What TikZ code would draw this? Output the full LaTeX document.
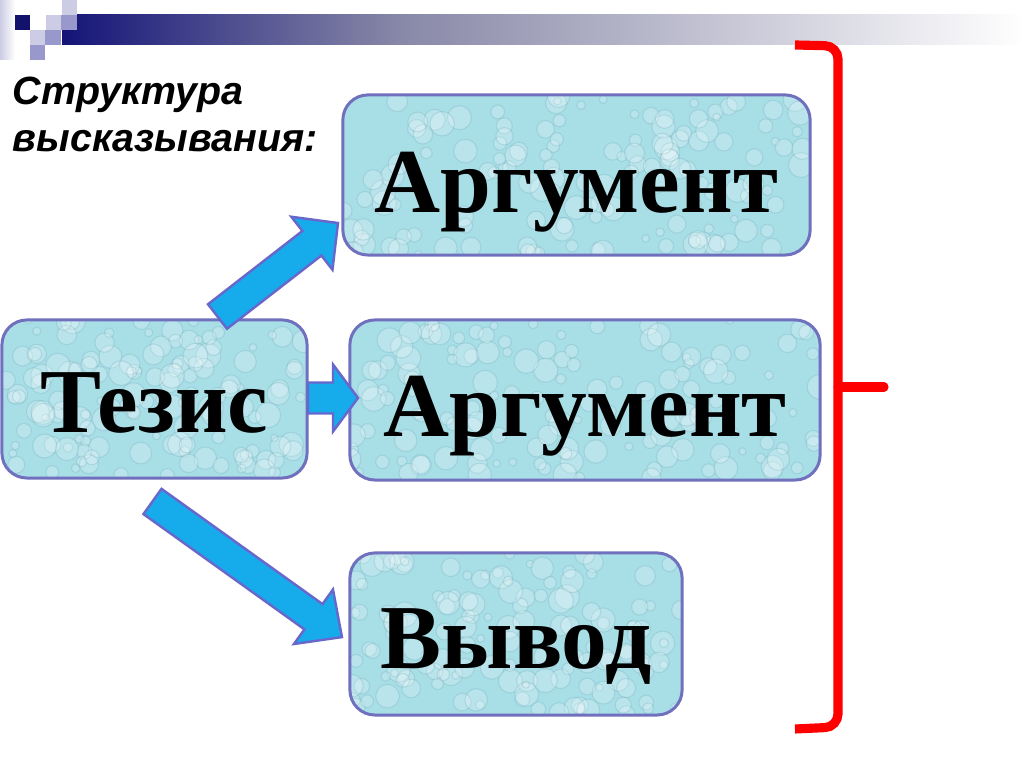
\documentclass[tikz,border=0pt]{standalone}
\usepackage{fontspec}
\setmainfont{Liberation Serif}
\newfontfamily\lsans{Liberation Sans}
\usetikzlibrary{calc}
\definecolor{boxfill}{RGB}{168,222,230}
\definecolor{boxborder}{RGB}{112,112,190}
\definecolor{dropedge}{RGB}{80,150,168}
\definecolor{arrowfill}{RGB}{22,172,236}
\definecolor{arrowborder}{RGB}{104,104,204}
\definecolor{navy}{RGB}{20,20,120}
\definecolor{barmid}{RGB}{136,136,168}
\definecolor{sqlight}{RGB}{204,204,228}
\definecolor{sqmid}{RGB}{152,152,204}
\tikzset{
  droplets/.style={path picture={
    \path (path picture bounding box.south west) coordinate (dsw)
          (path picture bounding box.north east) coordinate (dne);
    \pgfmathsetseed{#1}
    \foreach \i in {1,...,140}{
      \pgfmathsetmacro\rx{rnd}\pgfmathsetmacro\ry{rnd}\pgfmathsetmacro\rr{1+2.6*rnd}
      \path let \p1=(dsw),\p2=(dne) in ({\x1+\rx*(\x2-\x1)},{\y1+\ry*(\y2-\y1)}) coordinate (dc);
      \fill[white,opacity=.2] (dc) circle[radius=\rr pt];
      \draw[dropedge,opacity=.2,line width=.3pt] (dc) circle[radius=\rr pt];
    }}},
  box/.style={draw=boxborder, line width=0.85pt, fill=boxfill, rounded corners=0.25cm,
    inner sep=0pt, text=black, font=\bfseries\fontsize{26}{28}\selectfont},
  barrowstyle/.style={fill=arrowfill, draw=arrowborder, line width=0.7pt, line join=miter},
  brace/.style={draw=red, line width=2.6pt}
}
\newcommand\blockarrowX[4]{%
  \begin{scope}[shift={#1},rotate=#2]
    \filldraw[barrowstyle] (0,-15.5) -- ({#3-#4},-15.5) -- ({#3-#4},-33.5) -- (#3,0)
      -- ({#3-#4},33.5) -- ({#3-#4},15.5) -- (0,15.5) -- cycle;
  \end{scope}}
\begin{document}
\begin{tikzpicture}[x=0.01cm,y=-0.01cm]
\useasboundingbox (0,0) rectangle (1024,768);
\fill[white] (0,0) rectangle (1024,768);
% header decoration
\shade[left color=sqlight, right color=white] (0,0) rectangle (15,60);
\shade[left color=navy, right color=barmid] (62,15) rectangle (400,45);
\shade[left color=barmid, right color=white] (399.5,15) rectangle (1024,45);
\fill[navy!90!black] (15,15) rectangle (30,30);
\fill[sqlight] (62,0) rectangle (77,15);
\fill[sqlight] (46,15) rectangle (61,30);
\fill[sqmid] (61,15) rectangle (77,30);
\fill[sqlight] (30,30) rectangle (45,45);
\fill[sqmid] (45,30) rectangle (61,45);
\fill[sqmid] (30,45) rectangle (45,60);
% title
\node[anchor=north west, inner sep=0pt, align=left,
      font=\lsans\bfseries\itshape\fontsize{11.2}{13.4}\selectfont] (title) at (12,76)
  {Структура\\высказывания:};
% boxes
\node[box, droplets=3, minimum width=4.67cm, text height=1.17cm, text depth=0.43cm] (a1) at (576.5,175) {Аргумент};
\node[box, droplets=5, minimum width=3.05cm, text height=1.12cm, text depth=0.46cm] (tz) at (154.5,399) {Тезис\hspace{0.17cm}};
\node[box, droplets=7, minimum width=4.70cm, text height=1.16cm, text depth=0.44cm] (a2) at (585,400) {Аргумент};
\node[box, droplets=9, minimum width=3.32cm, text height=1.15cm, text depth=0.47cm] (vy) at (516,634) {Вывод};
% block arrows
\coordinate (t1) at (217.5,316.5);
\coordinate (t2) at (308,398);
\coordinate (t3) at (152.5,501.5);
\blockarrowX{(t1)}{37.8}{152.5}{33}
\blockarrowX{(t2)}{0}{50}{25}
\blockarrowX{(t3)}{-35.6}{233}{35}
% brace
\coordinate (bt) at (795,45);
\coordinate (bb) at (795,729);
\coordinate (bm) at (838,387);
\coordinate (btip) at (884,387);
\draw[brace, rounded corners=0.13cm] (bt) -- (838,46) -- (838,727) -- (bb);
\draw[brace, line cap=round] (bm) -- (btip);
\end{tikzpicture}
\end{document}
